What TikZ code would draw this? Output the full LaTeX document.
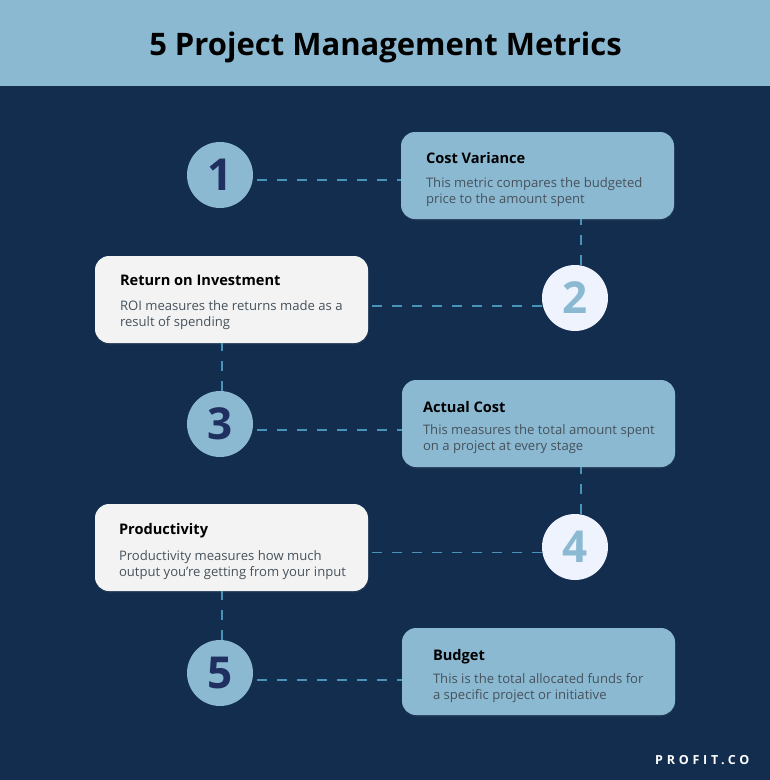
\documentclass[tikz,border=0pt]{standalone}
\usepackage{fontspec}
\setmainfont{Open Sans}
\usetikzlibrary{shadows}

\definecolor{navy}{HTML}{132D4F}
\definecolor{sky}{HTML}{8BB9D1}
\definecolor{paper}{HTML}{F3F3F3}
\definecolor{pale}{HTML}{EEF3FE}
\definecolor{ink}{HTML}{1F3060}
\definecolor{dash}{HTML}{4A93B8}
\definecolor{copy}{HTML}{46525C}

\tikzset{
  metric/.style={minimum width=273pt,minimum height=87pt,rounded corners=14pt,inner sep=0pt,
    drop shadow={shadow xshift=0.5pt,shadow yshift=-1.5pt,opacity=0.12}},
  badge/.style={circle,minimum size=66pt,inner sep=0pt,font=\fontsize{44}{44}\selectfont\bfseries},
  head/.style={anchor=west,inner sep=0pt,font=\fontsize{14.6}{17}\selectfont\bfseries,text=black},
  body/.style={anchor=west,inner sep=0pt,align=left,font=\fontsize{13.1}{16}\selectfont,text=copy},
  link/.style={draw=dash,line width=1.2pt,dash pattern=on 10pt off 10pt}
}

\begin{document}
\begin{tikzpicture}[x=1pt,y=-1pt]
\useasboundingbox (0,0) rectangle (770,780);

%background
\fill[navy] (0,0) rectangle (770,780);
\fill[sky] (0,0) rectangle (770,86);
\node[inner sep=0pt,text=black,font=\fontsize{31}{38}\selectfont\bfseries] (title) at (385.5,47) {5 Project Management Metrics};

%boxes
\node[metric,fill=sky] (cost) at (537.5,175.5) {};
\node[metric,fill=paper] (roi) at (231.5,299.5) {};
\node[metric,fill=sky] (actual) at (538.5,423.5) {};
\node[metric,fill=paper] (prod) at (231.5,547.5) {};
\node[metric,fill=sky] (budget) at (538.5,671.5) {};

%circles
\node[badge,fill=sky,text=ink] (one) at (220,175) {1};
\node[badge,fill=pale,text=sky] (two) at (575,298) {2};
\node[badge,fill=sky,text=ink] (three) at (220,424) {3};
\node[badge,fill=pale,text=sky] (four) at (575,547) {4};
\node[badge,fill=sky,text=ink] (five) at (220,673) {5};

%dashes
\draw[link] ([shift={(4,5)}]one.east) -- ([yshift=-5pt]one.east -| cost.west);
\draw[link] ([xshift=6pt]two.north) -- ([xshift=6pt]two.north |- cost.south);
\draw[link] ([yshift=-8pt]two.west) -- ([yshift=-8pt]two.west -| roi.east);
\draw[link] ([xshift=2pt]three.north) -- ([xshift=2pt]three.north |- roi.south);
\draw[link] ([shift={(4,6)}]three.east) -- ([yshift=-6pt]three.east -| actual.west);
\draw[link] ([xshift=6pt]four.north) -- ([xshift=6pt]four.north |- actual.south);
\draw[link] ([yshift=-5.5pt]four.west) -- ([yshift=-5.5pt]four.west -| prod.east);
\draw[link] ([xshift=2pt]five.north) -- ([xshift=2pt]five.north |- prod.south);
\draw[link] ([shift={(4,7)}]five.east) -- ([yshift=-7pt]five.east -| budget.west);

%labels
\node[head] (costhead) at ([shift={(25,26)}]cost.north west) {Cost Variance};
\node[body] (costbody) at ([shift={(25,60.5)}]cost.north west) {This metric compares the budgeted\\price to the amount spent};
\node[head] (roihead) at ([shift={(25,25)}]roi.north west) {Return on Investment};
\node[body] (roibody) at ([shift={(25,59.5)}]roi.north west) {ROI measures the returns made as a\\result of spending};
\node[head] (actualhead) at ([shift={(21,27)}]actual.north west) {Actual Cost};
\node[body] (actualbody) at ([shift={(21,59.5)}]actual.north west) {This measures the total amount spent\\on a project at every stage};
\node[head] (prodhead) at ([shift={(24,26.5)}]prod.north west) {Productivity};
\node[body] (prodbody) at ([shift={(24,61.5)}]prod.north west) {Productivity measures how much\\output you're getting from your input};
\node[head] (budgethead) at ([shift={(31,28.5)}]budget.north west) {Budget};
\node[body] (budgetbody) at ([shift={(31,60.5)}]budget.north west) {This is the total allocated funds for\\a specific project or initiative};

%logo
\node[anchor=west,inner sep=0pt,text=white,font=\fontsize{12.5}{14}\selectfont\bfseries\addfontfeature{LetterSpace=30}] (logo) at (655,760.5) {PROFIT.CO};

\end{tikzpicture}
\end{document}
